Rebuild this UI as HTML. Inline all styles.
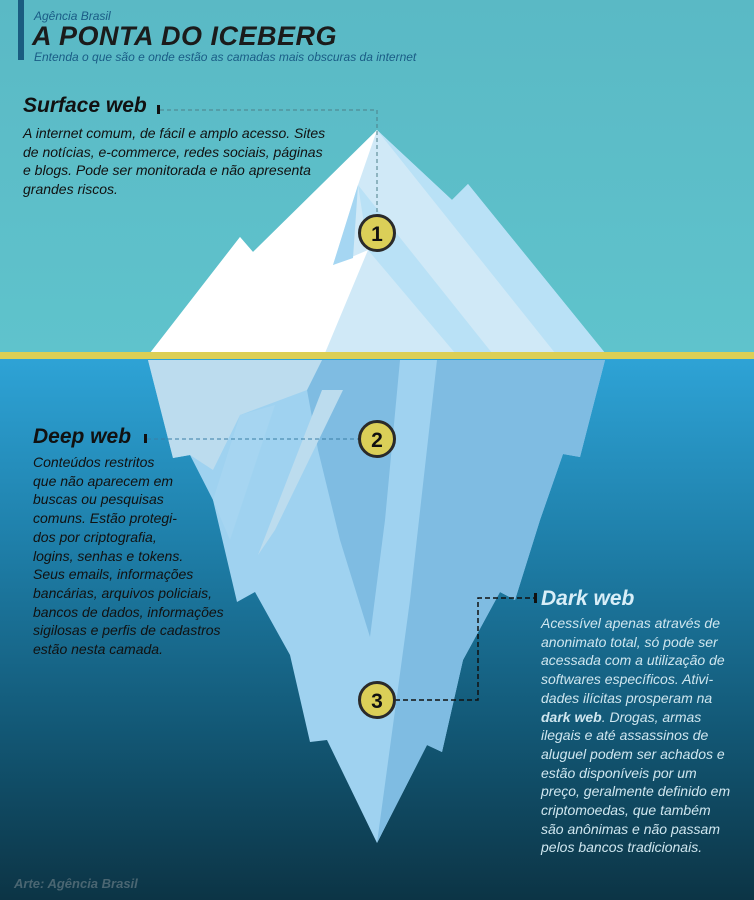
<!DOCTYPE html>
<html><head><meta charset="utf-8"><style>
body{margin:0;width:754px;height:900px;overflow:hidden;position:relative;font-family:"Liberation Sans",sans-serif;font-style:italic}
.t{position:absolute;white-space:nowrap}
.b{font-size:14px;line-height:18.7px}
</style></head><body>
<svg width="754" height="900" style="position:absolute;left:0;top:0">
<defs>
<linearGradient id="sky" x1="0" y1="0" x2="0" y2="1"><stop offset="0" stop-color="#5ab9c5"/><stop offset="1" stop-color="#5fc3cc"/></linearGradient>
<linearGradient id="sea" x1="0" y1="0" x2="0" y2="1"><stop offset="0" stop-color="#2ea3d6"/><stop offset="0.35" stop-color="#1e7ea8"/><stop offset="0.7" stop-color="#125673"/><stop offset="1" stop-color="#0c3445"/></linearGradient>
</defs>
<rect x="0" y="0" width="754" height="354" fill="url(#sky)"/>
<rect x="0" y="358" width="754" height="542" fill="url(#sea)"/>
<polygon points="377,130 452,200 468,184 605,353 150,353 240,237 253,252" fill="#d0e9f7"/>
<polygon points="377,130 555,353 605,353 468,184 452,200" fill="#b9e1f6"/>
<polygon points="358,185 368,250 455,353 492,353" fill="#b9e1f6"/>
<polygon points="150,353 240,237 253,252 377,130 358,185 333,265 368,250 325,353" fill="#ffffff"/>
<polygon points="358,185 333,265 353,258" fill="#a5d6f2"/>
<polygon points="148,360 605,360 580,457 563,454 540,520 515,600 500,592 463,660 442,752 427,745 377,843 327,740 310,742 290,655 255,592 237,602 213,500 190,455 173,458" fill="#9fd2f0"/>
<polygon points="437,360 605,360 580,457 563,454 540,520 515,600 500,592 463,660 442,752 427,745 377,843 410,600" fill="#7fbce2"/>
<polygon points="322,360 400,360 385,520 370,637 340,540 318,450 307,390" fill="#7fbce2"/>
<polygon points="148,360 322,360 307,390 240,415 213,470 190,455 173,458" fill="#bcdcee"/>
<polygon points="322,390 343,390 275,530 258,555" fill="#bcdcee"/>
<polygon points="240,415 275,405 230,540 213,500" fill="#a6d5f1"/>
<rect x="0" y="352" width="754" height="7" fill="#dccf55"/>
<g stroke="#4d7f88" stroke-width="1" stroke-dasharray="4,3" fill="none">
<path d="M160,110 H377 V215"/>
<path d="M147,439 H358" stroke="#3a7ea5"/>
</g>
<rect x="157" y="105" width="3" height="9" fill="#111"/>
<rect x="144" y="434" width="3" height="9" fill="#111"/>
<path d="M395,700 H478 V598 H535" stroke="#111" stroke-width="1.5" stroke-dasharray="5,3" fill="none"/>
<rect x="534" y="593" width="3" height="10" fill="#111"/>
<g fill="#dbcf58" stroke="#2a2a2a" stroke-width="3">
<circle cx="377" cy="233" r="17.5"/><circle cx="377" cy="439" r="17.5"/><circle cx="377" cy="700" r="17.5"/>
</g>
<g font-family="Liberation Sans" font-weight="bold" font-style="normal" font-size="21" text-anchor="middle" fill="#111">
<text x="377" y="241">1</text><text x="377" y="447">2</text><text x="377" y="708">3</text>
</g>
<rect x="18" y="0" width="6" height="60" fill="#1a5c80"/>
</svg>
<div class="t" style="left:34px;top:9px;font-size:12px;color:#1a5c86">Agência Brasil</div>
<div class="t" style="left:32px;top:21px;font-size:27px;font-weight:bold;color:#1b1b1b;letter-spacing:0.5px">A PONTA DO ICEBERG</div>
<div class="t" style="left:34px;top:50px;font-size:12px;color:#1a5c86">Entenda o que são e onde estão as camadas mais obscuras da internet</div>

<div class="t" style="left:23px;top:94px;font-size:21px;font-weight:bold;color:#111">Surface web</div>
<div class="t b" style="left:23px;top:124px;color:#111">A internet comum, de fácil e amplo acesso. Sites<br>de notícias, e-commerce, redes sociais, páginas<br>e blogs. Pode ser monitorada e não apresenta<br>grandes riscos.</div>

<div class="t" style="left:33px;top:425px;font-size:21px;font-weight:bold;color:#111">Deep web</div>
<div class="t b" style="left:33px;top:453px;color:#111">Conteúdos restritos<br>que não aparecem em<br>buscas ou pesquisas<br>comuns. Estão protegi-<br>dos por criptografia,<br>logins, senhas e tokens.<br>Seus emails, informações<br>bancárias, arquivos policiais,<br>bancos de dados, informações<br>sigilosas e perfis de cadastros<br>estão nesta camada.</div>

<div class="t" style="left:541px;top:587px;font-size:21px;font-weight:bold;color:#d8eef8">Dark web</div>
<div class="t b" style="left:541px;top:614px;color:#cfe6ef">Acessível apenas através de<br>anonimato total, só pode ser<br>acessada com a utilização de<br>softwares específicos. Ativi-<br>dades ilícitas prosperam na<br><b>dark web</b>. Drogas, armas<br>ilegais e até assassinos de<br>aluguel podem ser achados e<br>estão disponíveis por um<br>preço, geralmente definido em<br>criptomoedas, que também<br>são anônimas e não passam<br>pelos bancos tradicionais.</div>

<div class="t" style="left:14px;top:876px;font-size:13px;font-weight:bold;color:#4a6672">Arte: Agência Brasil</div>
</body></html>
